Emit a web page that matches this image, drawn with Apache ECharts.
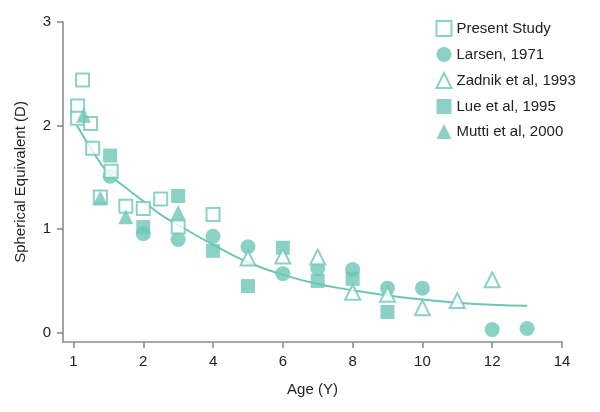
<!DOCTYPE html>
<html>
<head>
<meta charset="utf-8">
<script src="https://cdn.jsdelivr.net/npm/echarts@6/dist/echarts.min.js"></script>
<style>
html,body{margin:0;padding:0;background:#fff;}
#chart{width:600px;height:412px;}
</style>
</head>
<body>
<div id="chart"></div>
<script>
// ---- data ----
const seriesNames = ['Present Study', 'Larsen, 1971', 'Zadnik et al, 1993', 'Lue et al, 1995', 'Mutti et al, 2000'];

const presentStudy = [[0.12,2.19],[0.12,2.07],[0.26,2.44],[0.49,2.02],[0.55,1.78],[0.77,1.31],[1.08,1.56],[1.5,1.22],[2.0,1.20],[2.5,1.29],[3.0,1.02],[4.0,1.14]];
const larsen1971 = [[1.05,1.51],[2,0.955],[3,0.90],[4,0.93],[5,0.83],[6,0.57],[7,0.62],[8,0.61],[9,0.43],[10,0.43],[12,0.03],[13,0.04]];
const zadnik1993 = [[5,0.72],[6,0.74],[7,0.73],[8,0.39],[9,0.37],[10,0.24],[11,0.31],[12,0.51]];
const lue1995 = [[1.05,1.71],[2,1.02],[3,1.32],[4,0.79],[5,0.45],[6,0.82],[7,0.50],[8,0.52],[9,0.20]];
const mutti2000 = [[0.29,2.10],[0.77,1.30],[1.5,1.12],[3.0,1.16]];
const fitCurve = [[0.1,2.0],[0.5,1.78],[1,1.54],[1.5,1.40],[2,1.27],[2.5,1.14],[3,1.04],[4,0.85],[5,0.68],[6,0.56],[7,0.47],[8,0.41],[9,0.36],[10,0.32],[11,0.29],[12,0.27],[13,0.26]];

const xTickValues = [0,2,4,6,8,10,12,14];
const xTickLabels = ['1','2','4','6','8','10','12','14'];
const yTickValues = [0,1,2,3];
const yTickLabels = ['0','1','2','3'];

// ---- styling ----
const teal = '#6ec5b8';
const axisGray = '#8c8c8c';
const textColor = '#222';
const font = "'Liberation Sans', Arial, Helvetica, sans-serif";

const chart = echarts.init(document.getElementById('chart'), null, {renderer:'canvas'});

const hollow = {color:'#ffffff', borderColor:teal, borderWidth:2};
const filled = {color:teal, borderWidth:0};

const option = {
  animation:false,
  backgroundColor:'#ffffff',
  textStyle:{fontFamily:font},
  grid:{left:63, right:38, top:22, bottom:70, outerBoundsMode:'none', containLabel:false},
  legend:{
    orient:'vertical', left:435.5, top:20, padding:0, itemGap:10, itemWidth:15, itemHeight:15, itemTextGap:12,
    data:[
      {name:seriesNames[0], icon:'rect'},
      {name:seriesNames[1], icon:'circle'},
      {name:seriesNames[2], icon:'triangle'},
      {name:seriesNames[3], icon:'rect'},
      {name:seriesNames[4], icon:'triangle'}
    ],
    textStyle:{fontSize:15, color:textColor, fontFamily:font}
  },
  xAxis:{
    type:'value', min:-0.3, max:14,
    name:'Age (Y)', nameLocation:'middle', nameGap:40,
    nameTextStyle:{fontSize:15, color:textColor, fontFamily:font},
    axisLine:{show:true, onZero:false, lineStyle:{color:axisGray, width:1.6}},
    axisTick:{show:true, length:6, customValues:xTickValues, lineStyle:{color:axisGray, width:1.6}},
    axisLabel:{show:true, margin:12, fontSize:15, color:textColor, fontFamily:font, customValues:xTickValues,
      formatter:function(v){ const i = xTickValues.indexOf(v); return i>=0 ? xTickLabels[i] : ''; }},
    splitLine:{show:false}
  },
  yAxis:{
    type:'value', min:-0.09, max:3,
    name:'Spherical Equivalent (D)', nameLocation:'middle', nameGap:35, nameRotate:90,
    nameTextStyle:{fontSize:15, color:textColor, fontFamily:font},
    axisLine:{show:true, onZero:false, lineStyle:{color:axisGray, width:1.6}},
    axisTick:{show:true, length:6, customValues:yTickValues, lineStyle:{color:axisGray, width:1.6}},
    axisLabel:{show:true, margin:12, fontSize:15, color:textColor, fontFamily:font, customValues:yTickValues,
      formatter:function(v){ const i = yTickValues.indexOf(v); return i>=0 ? yTickLabels[i] : ''; }},
    splitLine:{show:false}
  },
  series:[
    {name:'fit', type:'line', data:fitCurve, smooth:true, symbol:'none', silent:true,
      lineStyle:{color:teal, width:2}, z:1},
    {name:seriesNames[3], type:'scatter', data:lue1995, symbol:'rect', symbolSize:14, itemStyle:filled, z:2},
    {name:seriesNames[1], type:'scatter', data:larsen1971, symbol:'circle', symbolSize:15, itemStyle:filled, z:3},
    {name:seriesNames[0], type:'scatter', data:presentStudy, symbol:'rect', symbolSize:13, itemStyle:hollow, z:4},
    {name:seriesNames[2], type:'scatter', data:zadnik1993, symbol:'triangle', symbolSize:15, itemStyle:hollow, z:5},
    {name:seriesNames[4], type:'scatter', data:mutti2000, symbol:'triangle', symbolSize:15, itemStyle:filled, z:6}
  ]
};
chart.setOption(option);
</script>
</body>
</html>
